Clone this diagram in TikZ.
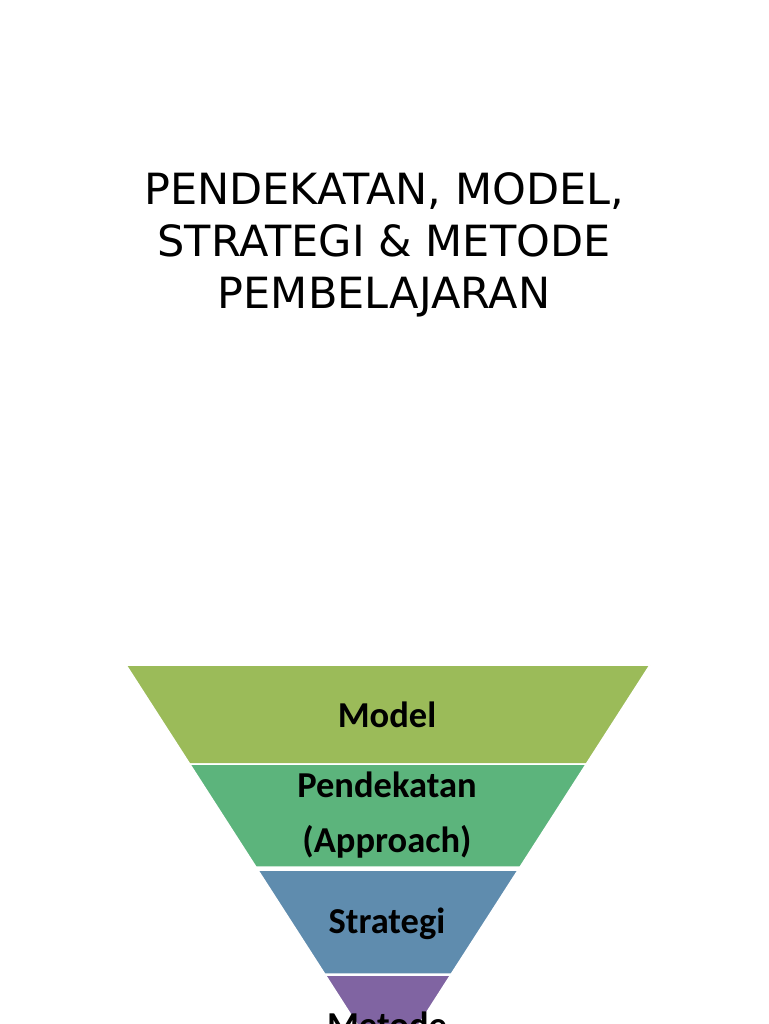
\documentclass[tikz,border=0pt]{standalone}
\usepackage{fontspec}
\setmainfont{DejaVu Sans}
\newfontfamily\lblfont{Carlito}
\definecolor{lvA}{HTML}{9BBB59}
\definecolor{lvB}{HTML}{5CB47C}
\definecolor{lvC}{HTML}{5F8CAE}
\definecolor{lvD}{HTML}{8064A2}
\tikzset{
  level/.style={draw=white, line width=1.5pt, line join=miter},
  lbl/.style={font=\lblfont\bfseries\fontsize{36.5}{42}\selectfont, text=black, anchor=base, inner sep=0pt},
  ttl/.style={font=\fontsize{43}{50}\selectfont, text=black, anchor=base, inner sep=0pt}
}
\begin{document}
\begin{tikzpicture}[x=1pt,y=-1pt]
\useasboundingbox (0,0) rectangle (768,1024);
\fill[white] (0,0) rectangle (768,1024);
% title
\node[ttl] (t1) at (384,205) {PENDEKATAN, MODEL,};
\node[ttl] (t2) at (384,256.5) {STRATEGI \& METODE};
\node[ttl] (t3) at (384,308) {PEMBELAJARAN};
% funnel levels
\fill[lvA,level] (126,665) -- (650,665) -- (586.3,764) -- (189.7,764) -- cycle;
\fill[lvB,level] (189.7,764) -- (586.3,764) -- (520.1,867) -- (255.9,867) -- cycle;
\fill[lvC,level] (257.8,870) -- (518.2,870) -- (451.3,974) -- (324.7,974) -- cycle;
\fill[lvD,level] (325.3,975) -- (450.7,975) -- (388,1072.7) -- cycle;
% labels
\node[lbl] (model) at (387,727) {Model};
\node[lbl] (pend) at (387,797) {Pendekatan};
\node[lbl] (appr) at (387,852) {(Approach)};
\node[lbl] (strat) at (387,933) {Strategi};
\node[lbl] (met) at (387,1037) {Metode};
\end{tikzpicture}
\end{document}
